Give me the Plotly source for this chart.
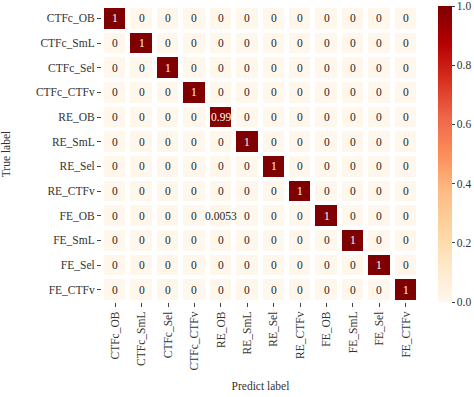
import plotly.graph_objects as go

labels = ["CTFc_OB", "CTFc_SmL", "CTFc_Sel", "CTFc_CTFv",
          "RE_OB", "RE_SmL", "RE_Sel", "RE_CTFv",
          "FE_OB", "FE_SmL", "FE_Sel", "FE_CTFv"]

z = [
    [1, 0, 0, 0, 0, 0, 0, 0, 0, 0, 0, 0],
    [0, 1, 0, 0, 0, 0, 0, 0, 0, 0, 0, 0],
    [0, 0, 1, 0, 0, 0, 0, 0, 0, 0, 0, 0],
    [0, 0, 0, 1, 0, 0, 0, 0, 0, 0, 0, 0],
    [0, 0, 0, 0, 0.99, 0, 0, 0, 0, 0, 0, 0],
    [0, 0, 0, 0, 0, 1, 0, 0, 0, 0, 0, 0],
    [0, 0, 0, 0, 0, 0, 1, 0, 0, 0, 0, 0],
    [0, 0, 0, 0, 0, 0, 0, 1, 0, 0, 0, 0],
    [0, 0, 0, 0, 0.0053, 0, 0, 0, 1, 0, 0, 0],
    [0, 0, 0, 0, 0, 0, 0, 0, 0, 1, 0, 0],
    [0, 0, 0, 0, 0, 0, 0, 0, 0, 0, 1, 0],
    [0, 0, 0, 0, 0, 0, 0, 0, 0, 0, 0, 1],
]

cbar_ticks = [0, 0.2, 0.4, 0.6, 0.8, 1.0]
cbar_ticktext = ["0.0", "0.2", "0.4", "0.6", "0.8", "1.0"]

text = [[f"{v:g}" for v in row] for row in z]
font_colors = [["white" if v > 0.5 else "#262626" for v in row] for row in z]

FONT = "Liberation Serif"
FS = 11.5

fig = go.Figure()
fig.add_trace(go.Heatmap(
    z=z, x=labels, y=labels,
    colorscale="OrRd", zmin=0, zmax=1,
    xgap=5, ygap=4,
    showscale=True,
    colorbar=dict(
        x=1.06, xanchor="left", xref="paper", xpad=0, ypad=0,
        y=0.5, yanchor="middle", len=1.0, lenmode="fraction",
        thickness=14, outlinewidth=0,
        tickvals=cbar_ticks,
        ticktext=cbar_ticktext,
        ticks="outside", ticklen=3, tickcolor="#444",
        tickfont=dict(family=FONT, size=FS, color="#333"),
    ),
    hoverinfo="skip",
))

for i, row in enumerate(z):
    for j, v in enumerate(row):
        fig.add_annotation(
            x=labels[j], y=labels[i], text=text[i][j],
            showarrow=False,
            font=dict(family=FONT, size=FS, color=font_colors[i][j]),
        )

fig.update_layout(
    width=474, height=397,
    margin=dict(l=102, r=55, t=6, b=95, autoexpand=False),
    paper_bgcolor="white", plot_bgcolor="white",
    font=dict(family=FONT, size=FS, color="#333"),
    xaxis=dict(
        automargin=False,
        tickangle=-90, ticks="outside", ticklen=4, tickcolor="#444",
        tickfont=dict(family=FONT, size=FS, color="#333"),
        showgrid=False, zeroline=False, showline=False,
        title=dict(text="Predict label", font=dict(family=FONT, size=FS, color="#333"), standoff=12),
    ),
    yaxis=dict(
        automargin=False,
        autorange="reversed", ticks="outside", ticklen=4, tickcolor="#444",
        tickfont=dict(family=FONT, size=FS, color="#333"),
        showgrid=False, zeroline=False, showline=False,
        title=dict(text="True label", font=dict(family=FONT, size=FS, color="#333"), standoff=27),
    ),
)

fig.write_html(
    "out.html",
    config={"displayModeBar": False},
    post_script="document.body.style.margin='0';document.body.style.overflow='hidden';",
)
